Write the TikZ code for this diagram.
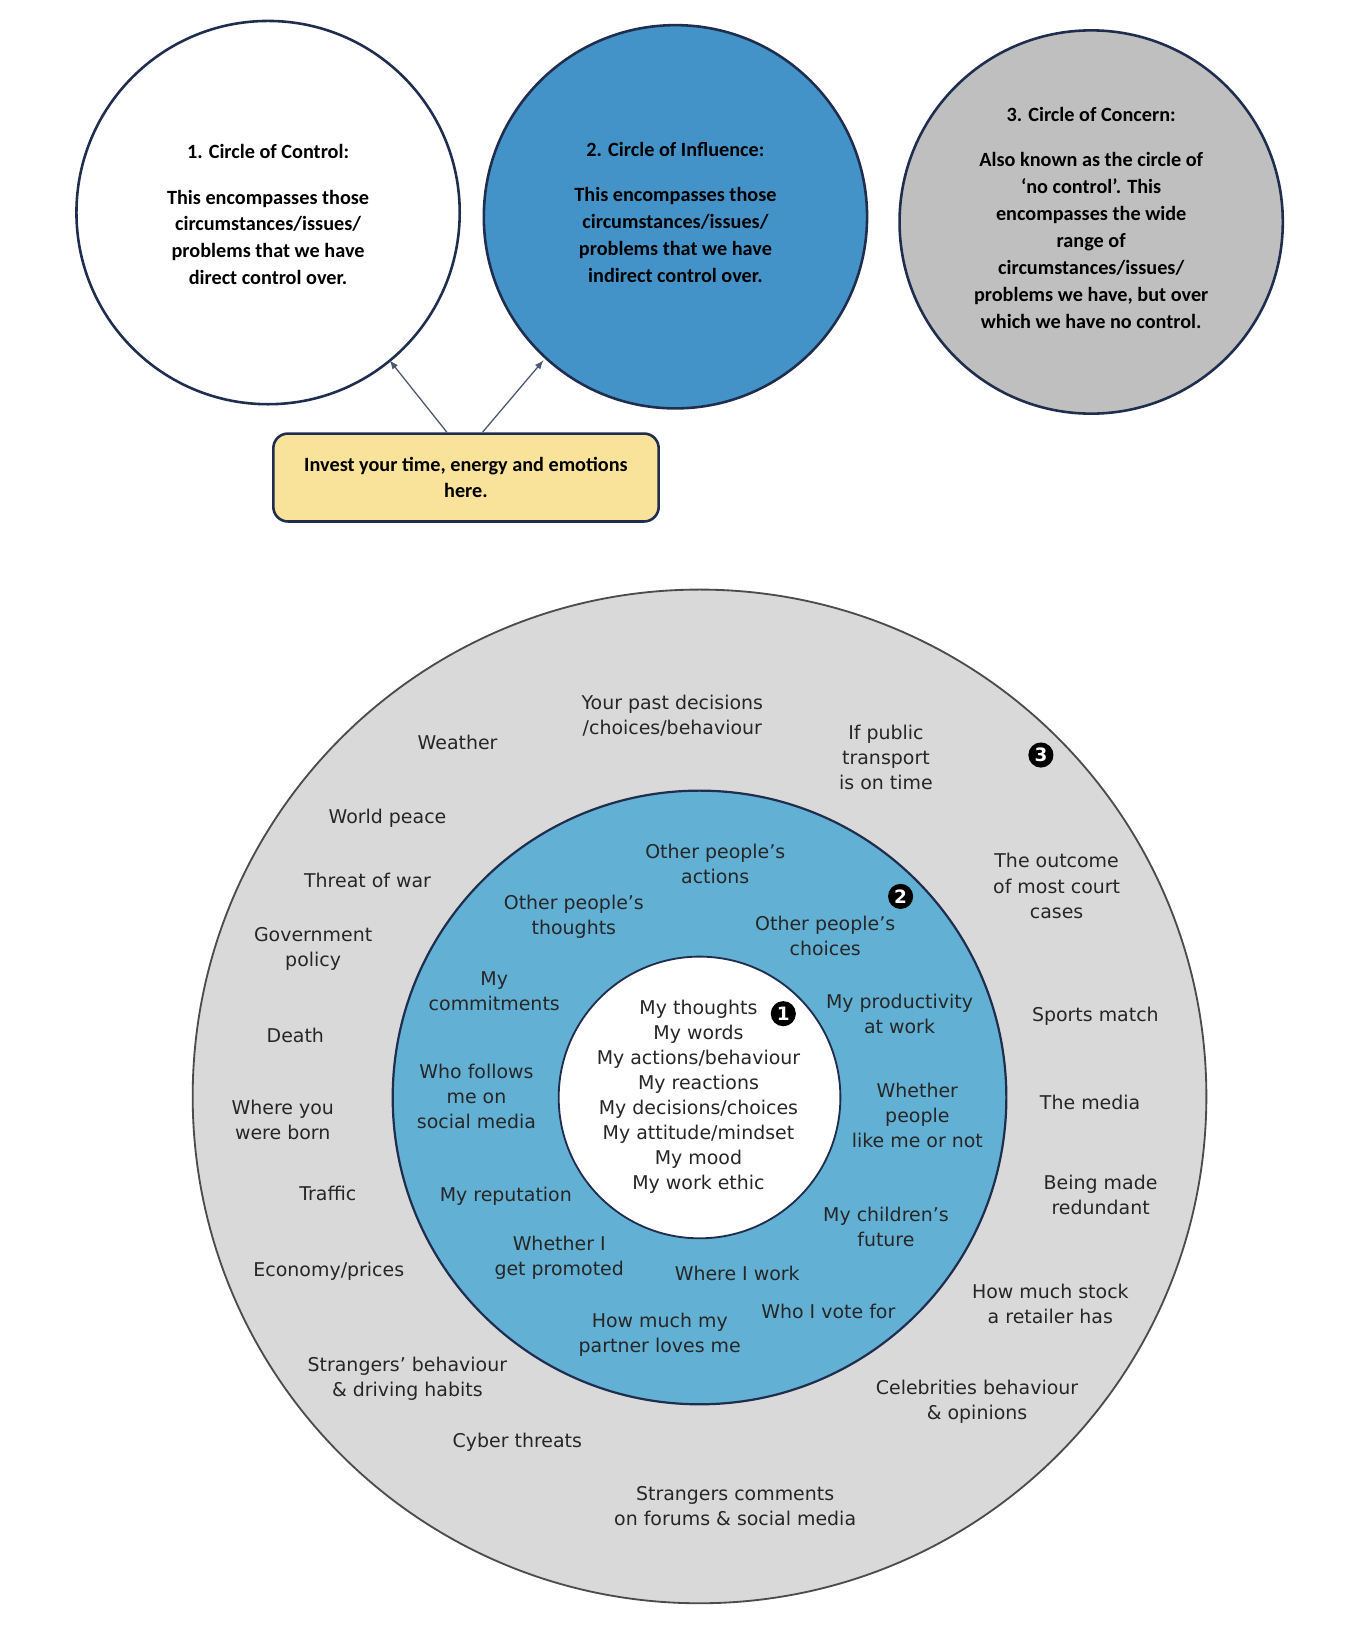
\documentclass[tikz,border=0pt]{standalone}
\usepackage{fontspec}
\setmainfont{DejaVu Sans}
\newfontfamily\calfont{Carlito}
\begin{document}
\begin{tikzpicture}[x=0.02cm,y=-0.02cm,
  top/.style={draw=navy,line width=1.4pt,circle,minimum size=366*0.02cm,inner sep=0pt},
  toptxt/.style={align=center,font=\calfont\bfseries\fontsize{11}{14.6}\selectfont,text=black},
  lab/.style={align=center,font=\fontsize{10.3}{13.6}\selectfont,text=black!85},
  num/.style={circle,fill=black,text=white,inner sep=0pt,minimum size=24*0.02cm,font=\bfseries\fontsize{10}{10}\selectfont},
  arr/.style={-latex,draw=navy!80,line width=0.7pt}]
\definecolor{navy}{HTML}{1F2D4E}
\definecolor{infl}{HTML}{4393C8}
\definecolor{conc}{HTML}{BFBFBF}
\definecolor{yel}{HTML}{F9E29A}
\definecolor{outer}{HTML}{D9D9D9}
\definecolor{mid}{HTML}{62B0D3}
\useasboundingbox (0,0) rectangle (1308,1568);
\fill[white] (0,0) rectangle (1308,1568);
\node[top,fill=white] (c1) at (256,203) {};
\node[top,fill=infl] (c2) at (645,207) {};
\node[top,fill=conc] (c3) at (1042,212) {};
\node[toptxt] (t1) at (256,205) {1. Circle of Control:\\[10pt]This encompasses those\\circumstances/issues/\\problems that we have\\direct control over.};
\node[toptxt] (t2) at (645,203) {2. Circle of Influence:\\[10pt]This encompasses those\\circumstances/issues/\\problems that we have\\indirect control over.};
\node[toptxt] (t3) at (1042,208) {3. Circle of Concern:\\[10pt]Also known as the circle of\\‘no control’. This\\encompasses the wide\\range of\\circumstances/issues/\\problems we have, but over\\which we have no control.};
\node[draw=navy,line width=1.4pt,fill=yel,rounded corners=8pt,minimum width=368*0.02cm,minimum height=84*0.02cm,toptxt] (box) at (445,456) {Invest your time, energy and emotions\\here.};
\coordinate (a1) at (372,344);
\coordinate (a2) at (519,344);
\draw[arr] (box.north west)++(167,0) -- (a1);
\draw[arr] (box.north west)++(201,0) -- (a2);
\node[circle,draw=black!70,line width=1pt,fill=outer,minimum size=968*0.02cm,inner sep=0pt] (o) at (668,1047) {};
\node[circle,draw=navy,line width=1.2pt,fill=mid,minimum size=586*0.02cm,inner sep=0pt] (m) at (668,1048) {};
\node[circle,draw=navy,line width=1pt,fill=white,minimum size=269*0.02cm,inner sep=0pt] (i) at (668,1048) {};
\node[num] (n1) at (748,968) {1};
\node[num] (n2) at (860,856) {2};
\node[num] (n3) at (994,721) {3};
\node[lab] at (667,1047) {My thoughts\\My words\\My actions/behaviour\\My reactions\\My decisions/choices\\My attitude/mindset\\My mood\\My work ethic};
\node[lab] at (683,825) {Other people’s\\actions};
\node[lab] at (548,875) {Other people’s\\thoughts};
\node[lab] at (788,894) {Other people’s\\choices};
\node[lab] at (472,947) {My\\commitments};
\node[lab] at (859,968) {My productivity\\at work};
\node[lab] at (455,1047) {Who follows\\me on\\social media};
\node[lab] at (876,1065) {Whether\\people\\like me or not};
\node[lab] at (483,1142) {My reputation};
\node[lab] at (846,1172) {My children’s\\future};
\node[lab] at (534,1201) {Whether I\\get promoted};
\node[lab] at (704,1216) {Where I work};
\node[lab] at (791,1252) {Who I vote for};
\node[lab] at (630,1275) {How much my\\partner loves me};
\node[lab] at (642,683) {Your past decisions\\/choices/behaviour};
\node[lab] at (437,709) {Weather};
\node[lab] at (846,723) {If public\\transport\\is on time};
\node[lab] at (370,781) {World peace};
\node[lab] at (351,841) {Threat of war};
\node[lab] at (1009,846) {The outcome\\of most court\\cases};
\node[lab] at (299,906) {Government\\policy};
\node[lab] at (282,989) {Death};
\node[lab] at (1046,970) {Sports match};
\node[lab] at (270,1069) {Where you\\were born};
\node[lab] at (1041,1053) {The media};
\node[lab] at (313,1140) {Traffic};
\node[lab] at (1051,1141) {Being made\\redundant};
\node[lab] at (314,1214) {Economy/prices};
\node[lab] at (1003,1245) {How much stock\\a retailer has};
\node[lab] at (389,1317) {Strangers’ behaviour\\\& driving habits};
\node[lab] at (933,1339) {Celebrities behaviour\\\& opinions};
\node[lab] at (494,1377) {Cyber threats};
\node[lab] at (702,1438) {Strangers comments\\on forums \& social media};
\end{tikzpicture}
\end{document}
